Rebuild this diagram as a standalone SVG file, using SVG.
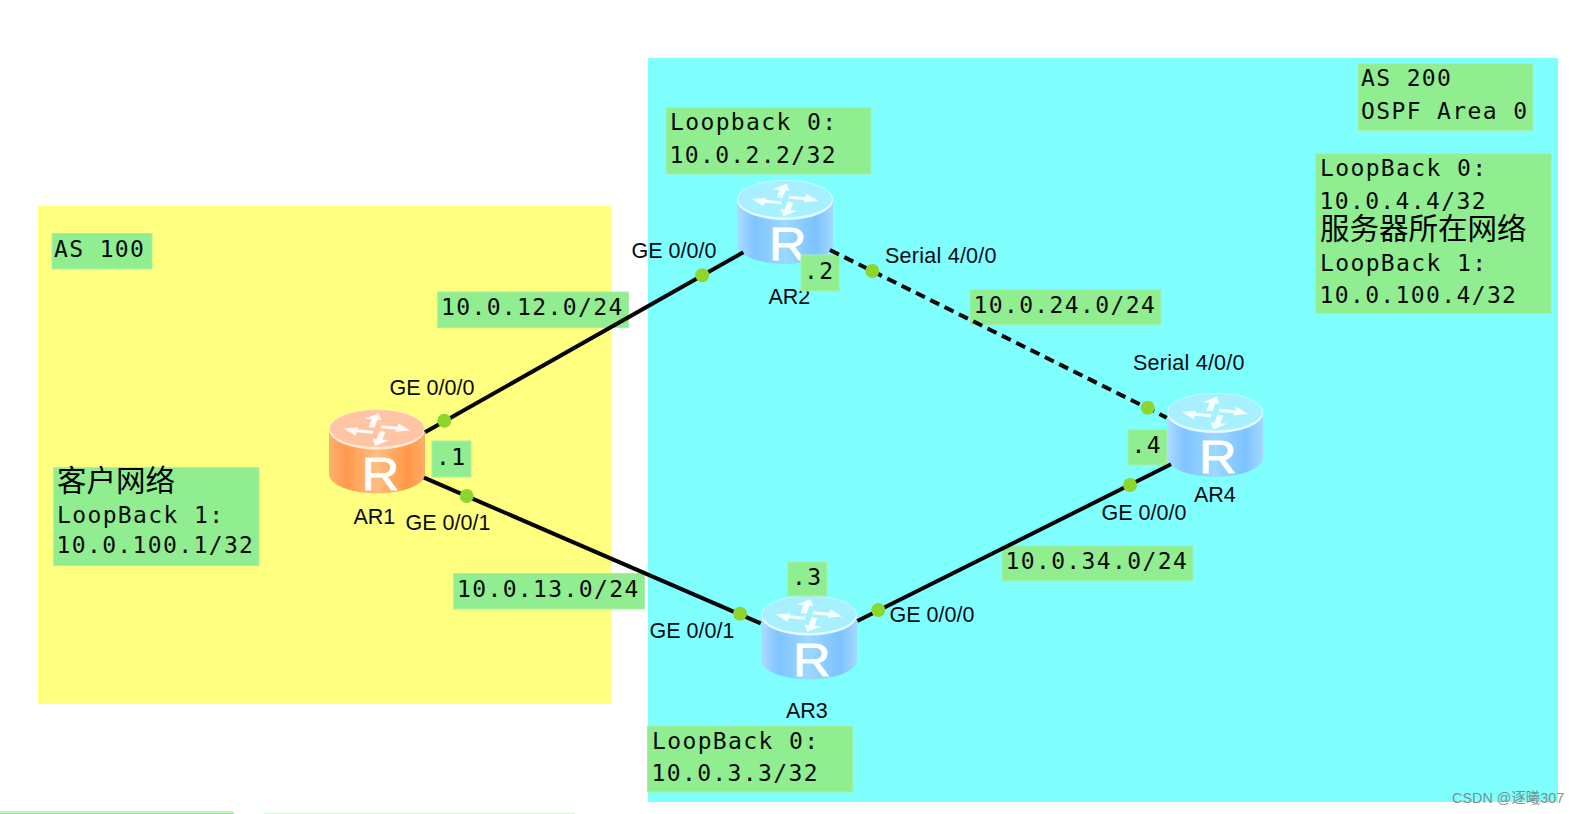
<svg xmlns="http://www.w3.org/2000/svg" width="1578" height="814" viewBox="0 0 1578 814">
<style>
.lb{fill:#90EE90;stroke:#A8F0A8;stroke-width:1}
.m{font-family:"DejaVu Sans Mono","Liberation Mono",monospace;font-size:23px;letter-spacing:1.37px;fill:#0a0a0a}
.s{font-family:"Liberation Sans",Arial,sans-serif;font-size:21.5px;fill:#0a0a14}
.sr{letter-spacing:.25px}
.c{font-family:"Noto Sans CJK SC","Noto Sans",sans-serif;font-size:29.5px;font-weight:400;fill:#000}
.r{font-family:"Liberation Sans",Arial,sans-serif;font-size:46px;fill:#fff;stroke:#fff;stroke-width:.8}
.l{stroke:#050505;stroke-width:4;fill:none}
.d{stroke-dasharray:10 6}
.p{fill:#8CD62E}
.a{fill:#fff;fill-opacity:.88}
</style>
<defs>
<linearGradient id="gb" x1="0" x2="1" y1="0" y2="0">
<stop offset="0" stop-color="#AEDCFF"/><stop offset=".18" stop-color="#80C4FF"/><stop offset=".5" stop-color="#9CD8FF"/><stop offset=".82" stop-color="#7CC2FF"/><stop offset="1" stop-color="#A4D8FF"/>
</linearGradient>
<linearGradient id="go" x1="0" x2="1" y1="0" y2="0">
<stop offset="0" stop-color="#FFB070"/><stop offset=".18" stop-color="#FF9A4E"/><stop offset=".5" stop-color="#FFBE80"/><stop offset=".82" stop-color="#FF9848"/><stop offset="1" stop-color="#FFAC68"/>
</linearGradient>
<path id="arw" class="a" d="M3,-9 H19 V-16 L33,-4 L19,1 V-3 H3 Z"/>
<g id="arrows">
<g transform="translate(48,20) scale(1,.5) rotate(10)">
<use href="#arw"/>
<use href="#arw" transform="rotate(90)"/>
<use href="#arw" transform="rotate(180)"/>
<use href="#arw" transform="rotate(270)"/>
</g>
</g>
<g id="router-blue">
<path fill="url(#gb)" d="M0,19.5 V64.5 A48,19.5 0 0 0 96,64.5 V19.5 Z"/>
<ellipse cx="48" cy="20" rx="48" ry="20" fill="#E4FBFF"/>
<ellipse cx="48" cy="19" rx="47" ry="18.5" fill="#A8F0FF"/>
<use href="#arrows"/>
</g>
<g id="router-orange">
<path fill="url(#go)" d="M0,19.5 V64.5 A48,19.5 0 0 0 96,64.5 V19.5 Z"/>
<ellipse cx="48" cy="20" rx="48" ry="20" fill="#FFE8D8"/>
<ellipse cx="48" cy="19" rx="47" ry="18.5" fill="#FFC4A4"/>
<use href="#arrows"/>
</g>
</defs>
<rect width="1578" height="814" fill="#fff"/>
<g id="zones">
<rect id="zone-as100" x="38" y="206" width="574" height="498" fill="#FFFF80"/>
<rect id="zone-as200" x="648" y="58" width="910" height="744" fill="#80FFFF"/>
<rect x="0" y="811" width="234" height="3" fill="#C4F4C4"/>
<rect x="0" y="813" width="234" height="1" fill="#90EE90"/>
<rect x="264" y="813" width="310" height="1" fill="#D0F6D0"/>
</g>
<g id="AR1"><use href="#router-orange" x="329" y="409.5"/><text class="r" x="361.5" y="489.5" textLength="38" lengthAdjust="spacingAndGlyphs">R</text><text class="s" x="353.5" y="523.5">AR1</text></g>
<g id="AR2"><use href="#router-blue" x="737" y="180"/><text class="r" x="769" y="260" textLength="38" lengthAdjust="spacingAndGlyphs">R</text><text class="s" x="768.5" y="303.5">AR2</text></g>
<g id="AR3"><use href="#router-blue" x="761" y="595.5"/><text class="r" x="793" y="675.5" textLength="38" lengthAdjust="spacingAndGlyphs">R</text><text class="s" x="786" y="717.5">AR3</text></g>
<g id="AR4"><use href="#router-blue" x="1167" y="393"/><text class="r" x="1199" y="473" textLength="38" lengthAdjust="spacingAndGlyphs">R</text><text class="s" x="1194" y="502">AR4</text></g>
<g id="label-as100"><rect class="lb" x="52" y="233.5" width="100" height="35.5"/><text class="m" x="54" y="256.5">AS 100</text></g>
<g id="label-client"><rect class="lb" x="53.5" y="467.5" width="205.5" height="98"/><text class="c" x="57" y="491">客户网络</text><text class="m" x="57" y="522.5">LoopBack 1:</text><text class="m" x="56.5" y="552.5">10.0.100.1/32</text></g>
<g id="label-ar2"><rect class="lb" x="666" y="107.5" width="205" height="66.5"/><text class="m" x="670" y="130">Loopback 0:</text><text class="m" x="669.5" y="162.5">10.0.2.2/32</text></g>
<g id="label-as200"><rect class="lb" x="1358" y="63.5" width="175" height="67"/><text class="m" x="1361" y="86">AS 200</text><text class="m" x="1361" y="118.5">OSPF Area 0</text></g>
<g id="label-ar4"><rect class="lb" x="1315.5" y="153.5" width="236" height="160"/><text class="m" x="1320" y="176">LoopBack 0:</text><text class="m" x="1319.5" y="208.5">10.0.4.4/32</text><text class="c" x="1320" y="238.5">服务器所在网络</text><text class="m" x="1320" y="270.5">LoopBack 1:</text><text class="m" x="1319.5" y="302.5">10.0.100.4/32</text></g>
<g id="label-ar3"><rect class="lb" x="647.5" y="726" width="205.5" height="66"/><text class="m" x="652" y="748.5">LoopBack 0:</text><text class="m" x="651.5" y="780.5">10.0.3.3/32</text></g>
<g id="label-net12"><rect class="lb" x="437.5" y="292" width="191" height="35.5"/><text class="m" x="441" y="315">10.0.12.0/24</text></g>
<g id="label-net13"><rect class="lb" x="453.5" y="573.5" width="191" height="35.5"/><text class="m" x="457" y="596.5">10.0.13.0/24</text></g>
<g id="label-net24"><rect class="lb" x="970" y="289.5" width="191" height="35.5"/><text class="m" x="973.5" y="312.5">10.0.24.0/24</text></g>
<g id="label-net34"><rect class="lb" x="1002" y="546" width="191" height="35"/><text class="m" x="1005.5" y="568.5">10.0.34.0/24</text></g>
<g id="label-ip1"><rect class="lb" x="432" y="441" width="39" height="36"/><text class="m" x="436" y="465">.1</text></g>
<g id="label-ip2"><rect class="lb" x="801" y="255" width="38.5" height="36"/><text class="m" x="804" y="279">.2</text></g>
<g id="label-ip3"><rect class="lb" x="787.5" y="562" width="39.5" height="34"/><text class="m" x="792" y="584.5">.3</text></g>
<g id="label-ip4"><rect class="lb" x="1128" y="429.5" width="39" height="35.5"/><text class="m" x="1131.5" y="452.5">.4</text></g>
<g id="connectors">
<line class="l" x1="425" y1="432.3" x2="743.3" y2="252.3"/>
<line class="l" x1="424" y1="477.7" x2="760.7" y2="623.3"/>
<line class="l" x1="857.3" y1="621" x2="1171" y2="464.3"/>
<line class="l d" x1="830" y1="250" x2="1166.7" y2="417.7"/>
</g>
<g id="ports">
<circle class="p" cx="444.3" cy="420.7" r="7"/>
<circle class="p" cx="702.3" cy="275.3" r="7"/>
<circle class="p" cx="466.7" cy="496" r="7"/>
<circle class="p" cx="740" cy="613.7" r="7"/>
<circle class="p" cx="878.3" cy="610" r="7"/>
<circle class="p" cx="1130" cy="485" r="7"/>
<circle class="p" cx="872.3" cy="271" r="7"/>
<circle class="p" cx="1147.7" cy="407.7" r="7"/>
</g>
<g id="port-labels">
<text class="s" x="389.5" y="394.5">GE 0/0/0</text>
<text class="s" x="405.5" y="530">GE 0/0/1</text>
<text class="s" x="631.5" y="257.5">GE 0/0/0</text>
<text class="s sr" x="885" y="262.5">Serial 4/0/0</text>
<text class="s sr" x="1133" y="370">Serial 4/0/0</text>
<text class="s" x="1101.5" y="520">GE 0/0/0</text>
<text class="s" x="649.5" y="638">GE 0/0/1</text>
<text class="s" x="889.5" y="622">GE 0/0/0</text>
</g>
<text x="1452" y="802.5" font-family="'Liberation Sans','Noto Sans CJK SC',sans-serif" font-size="14.4" fill="#707070" fill-opacity=".8">CSDN @逐曦307</text>
</svg>
